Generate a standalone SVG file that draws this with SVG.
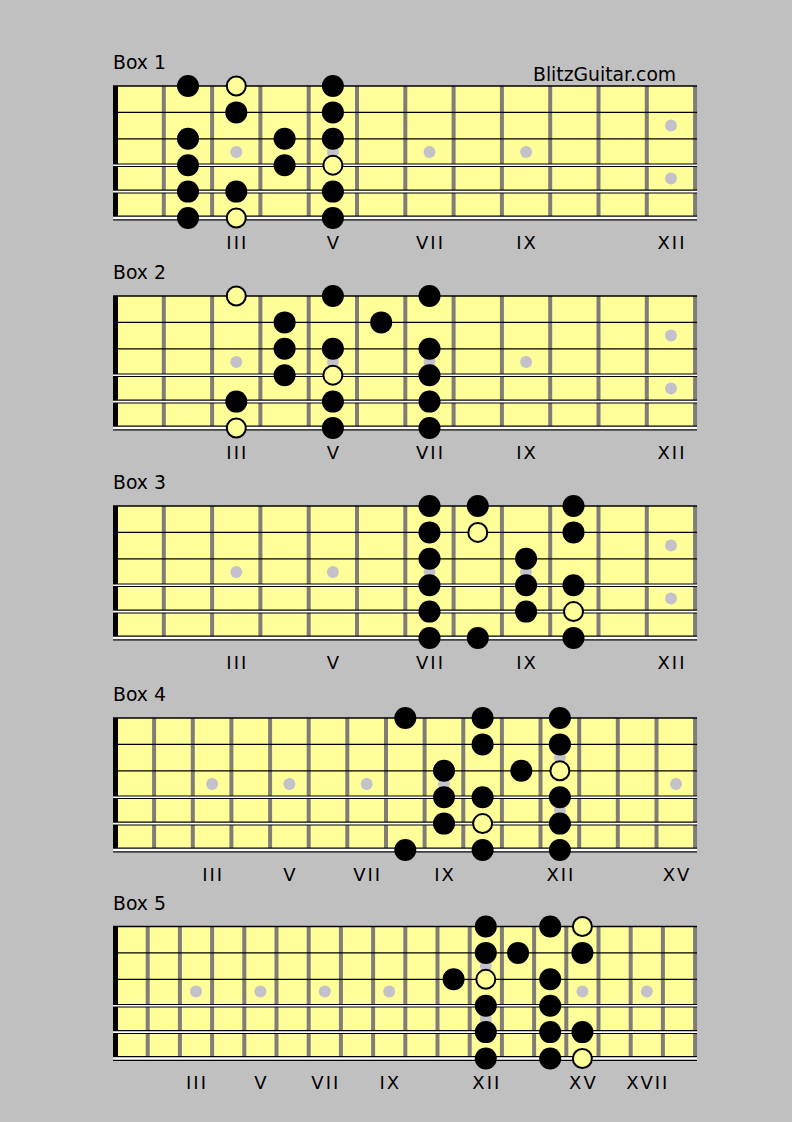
<svg xmlns="http://www.w3.org/2000/svg" xmlns:xlink="http://www.w3.org/1999/xlink" width="792" height="1122" viewBox="0 0 792 1122">
<style>
.lbl{font-family:"DejaVu Sans","Liberation Sans",sans-serif;font-size:18.8px;fill:#000}
.num{font-family:"DejaVu Sans","Liberation Sans",sans-serif;font-size:18px;fill:#000;text-anchor:middle;letter-spacing:2px}
.board{fill:#FFFF99}
.nut{fill:#000}
.fret{fill:#807C78}
.dot{fill:#C3C2CB}
.thin{stroke:#000;stroke-width:1.3}
.thk{stroke:#000}
.wht{stroke:#fff}
.n{fill:#000}
.o{fill:#FFFF99;stroke:#000;stroke-width:2}
</style>
<defs>
<g id="base">
<rect class="board" x="113" y="0" width="584" height="132"/>
<rect class="nut" x="113" y="0" width="5" height="132"/>
</g>
<g id="strings">
<line class="thin" x1="113" y1="0" x2="697" y2="0"/>
<line class="thin" x1="113" y1="26.4" x2="697" y2="26.4"/>
<line class="thin" x1="113" y1="52.8" x2="697" y2="52.8"/>
<line class="thk" stroke-width="3.6" x1="113" y1="79.2" x2="697" y2="79.2"/>
<line class="wht" stroke-width="1.4" x1="113" y1="79.2" x2="697" y2="79.2"/>
<line class="thk" stroke-width="4" x1="113" y1="105.6" x2="697" y2="105.6"/>
<line class="wht" stroke-width="1.8" x1="113" y1="105.6" x2="697" y2="105.6"/>
<line class="thk" stroke-width="5" x1="113" y1="132" x2="697" y2="132"/>
<line class="wht" stroke-width="2.6" x1="113" y1="132" x2="697" y2="132"/>
</g>
<g id="frets12">
<rect class="fret" x="161.8" y="0" width="4" height="132"/>
<rect class="fret" x="210.1" y="0" width="4" height="132"/>
<rect class="fret" x="258.4" y="0" width="4" height="132"/>
<rect class="fret" x="306.7" y="0" width="4" height="132"/>
<rect class="fret" x="355.0" y="0" width="4" height="132"/>
<rect class="fret" x="403.3" y="0" width="4" height="132"/>
<rect class="fret" x="451.6" y="0" width="4" height="132"/>
<rect class="fret" x="499.9" y="0" width="4" height="132"/>
<rect class="fret" x="548.2" y="0" width="4" height="132"/>
<rect class="fret" x="596.5" y="0" width="4" height="132"/>
<rect class="fret" x="644.8" y="0" width="4" height="132"/>
<rect class="fret" x="693.1" y="0" width="4" height="132"/>
<circle class="dot" cx="236.3" cy="66" r="6"/>
<circle class="dot" cx="332.9" cy="66" r="6"/>
<circle class="dot" cx="429.5" cy="66" r="6"/>
<circle class="dot" cx="526.1" cy="66" r="6"/>
<circle class="dot" cx="671" cy="39.6" r="6"/>
<circle class="dot" cx="671" cy="92.4" r="6"/>
</g>
<g id="labels12">
<text class="num" x="237.3" y="163">III</text>
<text class="num" x="333.9" y="163">V</text>
<text class="num" x="430.5" y="163">VII</text>
<text class="num" x="527.1" y="163">IX</text>
<text class="num" x="672" y="163">XII</text>
</g>
</defs>
<rect x="0" y="0" width="792" height="1122" fill="#C0C0C0"/>
<text class="lbl" x="533" y="80.5">BlitzGuitar.com</text>

<g id="box1" transform="translate(0,86)">
<text class="lbl" x="113" y="-17">Box 1</text>
<use xlink:href="#base"/>
<use xlink:href="#frets12"/>
<use xlink:href="#strings"/>
<use xlink:href="#labels12"/>
<g id="box1-notes">
<circle class="n" cx="188" cy="0" r="11"/>
<circle class="n" cx="188" cy="52.8" r="11"/>
<circle class="n" cx="188" cy="79.2" r="11"/>
<circle class="n" cx="188" cy="105.6" r="11"/>
<circle class="n" cx="188" cy="132" r="11"/>
<circle class="o" cx="236.3" cy="0" r="9.5"/>
<circle class="n" cx="236.3" cy="26.4" r="11"/>
<circle class="n" cx="236.3" cy="105.6" r="11"/>
<circle class="o" cx="236.3" cy="132" r="9.5"/>
<circle class="n" cx="284.6" cy="52.8" r="11"/>
<circle class="n" cx="284.6" cy="79.2" r="11"/>
<circle class="n" cx="332.9" cy="0" r="11"/>
<circle class="n" cx="332.9" cy="26.4" r="11"/>
<circle class="n" cx="332.9" cy="52.8" r="11"/>
<circle class="o" cx="332.9" cy="79.2" r="9.5"/>
<circle class="n" cx="332.9" cy="105.6" r="11"/>
<circle class="n" cx="332.9" cy="132" r="11"/>
</g>
</g>

<g id="box2" transform="translate(0,296)">
<text class="lbl" x="113" y="-17">Box 2</text>
<use xlink:href="#base"/>
<use xlink:href="#frets12"/>
<use xlink:href="#strings"/>
<use xlink:href="#labels12"/>
<g id="box2-notes">
<circle class="o" cx="236.3" cy="0" r="9.5"/>
<circle class="n" cx="236.3" cy="105.6" r="11"/>
<circle class="o" cx="236.3" cy="132" r="9.5"/>
<circle class="n" cx="284.6" cy="26.4" r="11"/>
<circle class="n" cx="284.6" cy="52.8" r="11"/>
<circle class="n" cx="284.6" cy="79.2" r="11"/>
<circle class="n" cx="332.9" cy="0" r="11"/>
<circle class="n" cx="332.9" cy="52.8" r="11"/>
<circle class="o" cx="332.9" cy="79.2" r="9.5"/>
<circle class="n" cx="332.9" cy="105.6" r="11"/>
<circle class="n" cx="332.9" cy="132" r="11"/>
<circle class="n" cx="381.2" cy="26.4" r="11"/>
<circle class="n" cx="429.5" cy="0" r="11"/>
<circle class="n" cx="429.5" cy="52.8" r="11"/>
<circle class="n" cx="429.5" cy="79.2" r="11"/>
<circle class="n" cx="429.5" cy="105.6" r="11"/>
<circle class="n" cx="429.5" cy="132" r="11"/>
</g>
</g>

<g id="box3" transform="translate(0,506)">
<text class="lbl" x="113" y="-17">Box 3</text>
<use xlink:href="#base"/>
<use xlink:href="#frets12"/>
<use xlink:href="#strings"/>
<use xlink:href="#labels12"/>
<g id="box3-notes">
<circle class="n" cx="429.5" cy="0" r="11"/>
<circle class="n" cx="429.5" cy="26.4" r="11"/>
<circle class="n" cx="429.5" cy="52.8" r="11"/>
<circle class="n" cx="429.5" cy="79.2" r="11"/>
<circle class="n" cx="429.5" cy="105.6" r="11"/>
<circle class="n" cx="429.5" cy="132" r="11"/>
<circle class="n" cx="477.8" cy="0" r="11"/>
<circle class="o" cx="477.8" cy="26.4" r="9.5"/>
<circle class="n" cx="477.8" cy="132" r="11"/>
<circle class="n" cx="526.1" cy="52.8" r="11"/>
<circle class="n" cx="526.1" cy="79.2" r="11"/>
<circle class="n" cx="526.1" cy="105.6" r="11"/>
<circle class="n" cx="573.5" cy="0" r="11"/>
<circle class="n" cx="573.5" cy="26.4" r="11"/>
<circle class="n" cx="573.5" cy="79.2" r="11"/>
<circle class="o" cx="573.5" cy="105.6" r="9.5"/>
<circle class="n" cx="573.5" cy="132" r="11"/>
</g>
</g>

<g id="box4" transform="translate(0,718)">
<text class="lbl" x="113" y="-17">Box 4</text>
<use xlink:href="#base"/>
<rect class="fret" x="152.1" y="0" width="4" height="132"/>
<rect class="fret" x="190.8" y="0" width="4" height="132"/>
<rect class="fret" x="229.4" y="0" width="4" height="132"/>
<rect class="fret" x="268.1" y="0" width="4" height="132"/>
<rect class="fret" x="306.7" y="0" width="4" height="132"/>
<rect class="fret" x="345.3" y="0" width="4" height="132"/>
<rect class="fret" x="384.0" y="0" width="4" height="132"/>
<rect class="fret" x="422.6" y="0" width="4" height="132"/>
<rect class="fret" x="461.3" y="0" width="4" height="132"/>
<rect class="fret" x="499.9" y="0" width="4" height="132"/>
<rect class="fret" x="538.5" y="0" width="4" height="132"/>
<rect class="fret" x="577.2" y="0" width="4" height="132"/>
<rect class="fret" x="615.8" y="0" width="4" height="132"/>
<rect class="fret" x="654.5" y="0" width="4" height="132"/>
<rect class="fret" x="693.1" y="0" width="4" height="132"/>
<circle class="dot" cx="212.1" cy="66" r="6"/>
<circle class="dot" cx="289.4" cy="66" r="6"/>
<circle class="dot" cx="366.7" cy="66" r="6"/>
<circle class="dot" cx="444" cy="66" r="6"/>
<circle class="dot" cx="559.9" cy="39.6" r="6"/>
<circle class="dot" cx="559.9" cy="92.4" r="6"/>
<circle class="dot" cx="676" cy="66" r="6"/>
<use xlink:href="#strings"/>
<text class="num" x="213.1" y="163">III</text>
<text class="num" x="290.4" y="163">V</text>
<text class="num" x="367.7" y="163">VII</text>
<text class="num" x="445" y="163">IX</text>
<text class="num" x="560.9" y="163">XII</text>
<text class="num" x="677" y="163">XV</text>
<g id="box4-notes">
<circle class="n" cx="405.3" cy="0" r="11"/>
<circle class="n" cx="405.3" cy="132" r="11"/>
<circle class="n" cx="444" cy="52.8" r="11"/>
<circle class="n" cx="444" cy="79.2" r="11"/>
<circle class="n" cx="444" cy="105.6" r="11"/>
<circle class="n" cx="482.6" cy="0" r="11"/>
<circle class="n" cx="482.6" cy="26.4" r="11"/>
<circle class="n" cx="482.6" cy="79.2" r="11"/>
<circle class="o" cx="482.6" cy="105.6" r="9.5"/>
<circle class="n" cx="482.6" cy="132" r="11"/>
<circle class="n" cx="521.3" cy="52.8" r="11"/>
<circle class="n" cx="559.9" cy="0" r="11"/>
<circle class="n" cx="559.9" cy="26.4" r="11"/>
<circle class="o" cx="559.9" cy="52.8" r="9.5"/>
<circle class="n" cx="559.9" cy="79.2" r="11"/>
<circle class="n" cx="559.9" cy="105.6" r="11"/>
<circle class="n" cx="559.9" cy="132" r="11"/>
</g>
</g>

<g id="box5" transform="translate(0,926.5)">
<text class="lbl" x="113" y="-17">Box 5</text>
<use xlink:href="#base"/>
<rect class="fret" x="145.7" y="0" width="4" height="132"/>
<rect class="fret" x="177.9" y="0" width="4" height="132"/>
<rect class="fret" x="210.1" y="0" width="4" height="132"/>
<rect class="fret" x="242.3" y="0" width="4" height="132"/>
<rect class="fret" x="274.5" y="0" width="4" height="132"/>
<rect class="fret" x="306.7" y="0" width="4" height="132"/>
<rect class="fret" x="338.9" y="0" width="4" height="132"/>
<rect class="fret" x="371.1" y="0" width="4" height="132"/>
<rect class="fret" x="403.3" y="0" width="4" height="132"/>
<rect class="fret" x="435.5" y="0" width="4" height="132"/>
<rect class="fret" x="467.7" y="0" width="4" height="132"/>
<rect class="fret" x="499.9" y="0" width="4" height="132"/>
<rect class="fret" x="532.1" y="0" width="4" height="132"/>
<rect class="fret" x="564.3" y="0" width="4" height="132"/>
<rect class="fret" x="596.5" y="0" width="4" height="132"/>
<rect class="fret" x="628.7" y="0" width="4" height="132"/>
<rect class="fret" x="660.9" y="0" width="4" height="132"/>
<rect class="fret" x="693.1" y="0" width="4" height="132"/>
<circle class="dot" cx="196" cy="65" r="6"/>
<circle class="dot" cx="260.4" cy="65" r="6"/>
<circle class="dot" cx="324.8" cy="65" r="6"/>
<circle class="dot" cx="389.2" cy="65" r="6"/>
<circle class="dot" cx="485.8" cy="39.6" r="6"/>
<circle class="dot" cx="485.8" cy="92.4" r="6"/>
<circle class="dot" cx="582.4" cy="65" r="6"/>
<circle class="dot" cx="646.8" cy="65" r="6"/>
<use xlink:href="#strings"/>
<text class="num" x="197" y="162">III</text>
<text class="num" x="261.4" y="162">V</text>
<text class="num" x="325.8" y="162">VII</text>
<text class="num" x="390.2" y="162">IX</text>
<text class="num" x="486.8" y="162">XII</text>
<text class="num" x="583.4" y="162">XV</text>
<text class="num" x="647.8" y="162">XVII</text>
<g id="box5-notes">
<circle class="n" cx="453.6" cy="52.8" r="11"/>
<circle class="n" cx="485.8" cy="0" r="11"/>
<circle class="n" cx="485.8" cy="26.4" r="11"/>
<circle class="o" cx="485.8" cy="52.8" r="9.5"/>
<circle class="n" cx="485.8" cy="79.2" r="11"/>
<circle class="n" cx="485.8" cy="105.6" r="11"/>
<circle class="n" cx="485.8" cy="132" r="11"/>
<circle class="n" cx="518" cy="26.4" r="11"/>
<circle class="n" cx="550.2" cy="0" r="11"/>
<circle class="n" cx="550.2" cy="52.8" r="11"/>
<circle class="n" cx="550.2" cy="79.2" r="11"/>
<circle class="n" cx="550.2" cy="105.6" r="11"/>
<circle class="n" cx="550.2" cy="132" r="11"/>
<circle class="o" cx="582.4" cy="0" r="9.5"/>
<circle class="n" cx="582.4" cy="26.4" r="11"/>
<circle class="n" cx="582.4" cy="105.6" r="11"/>
<circle class="o" cx="582.4" cy="132" r="9.5"/>
</g>
</g>
</svg>
